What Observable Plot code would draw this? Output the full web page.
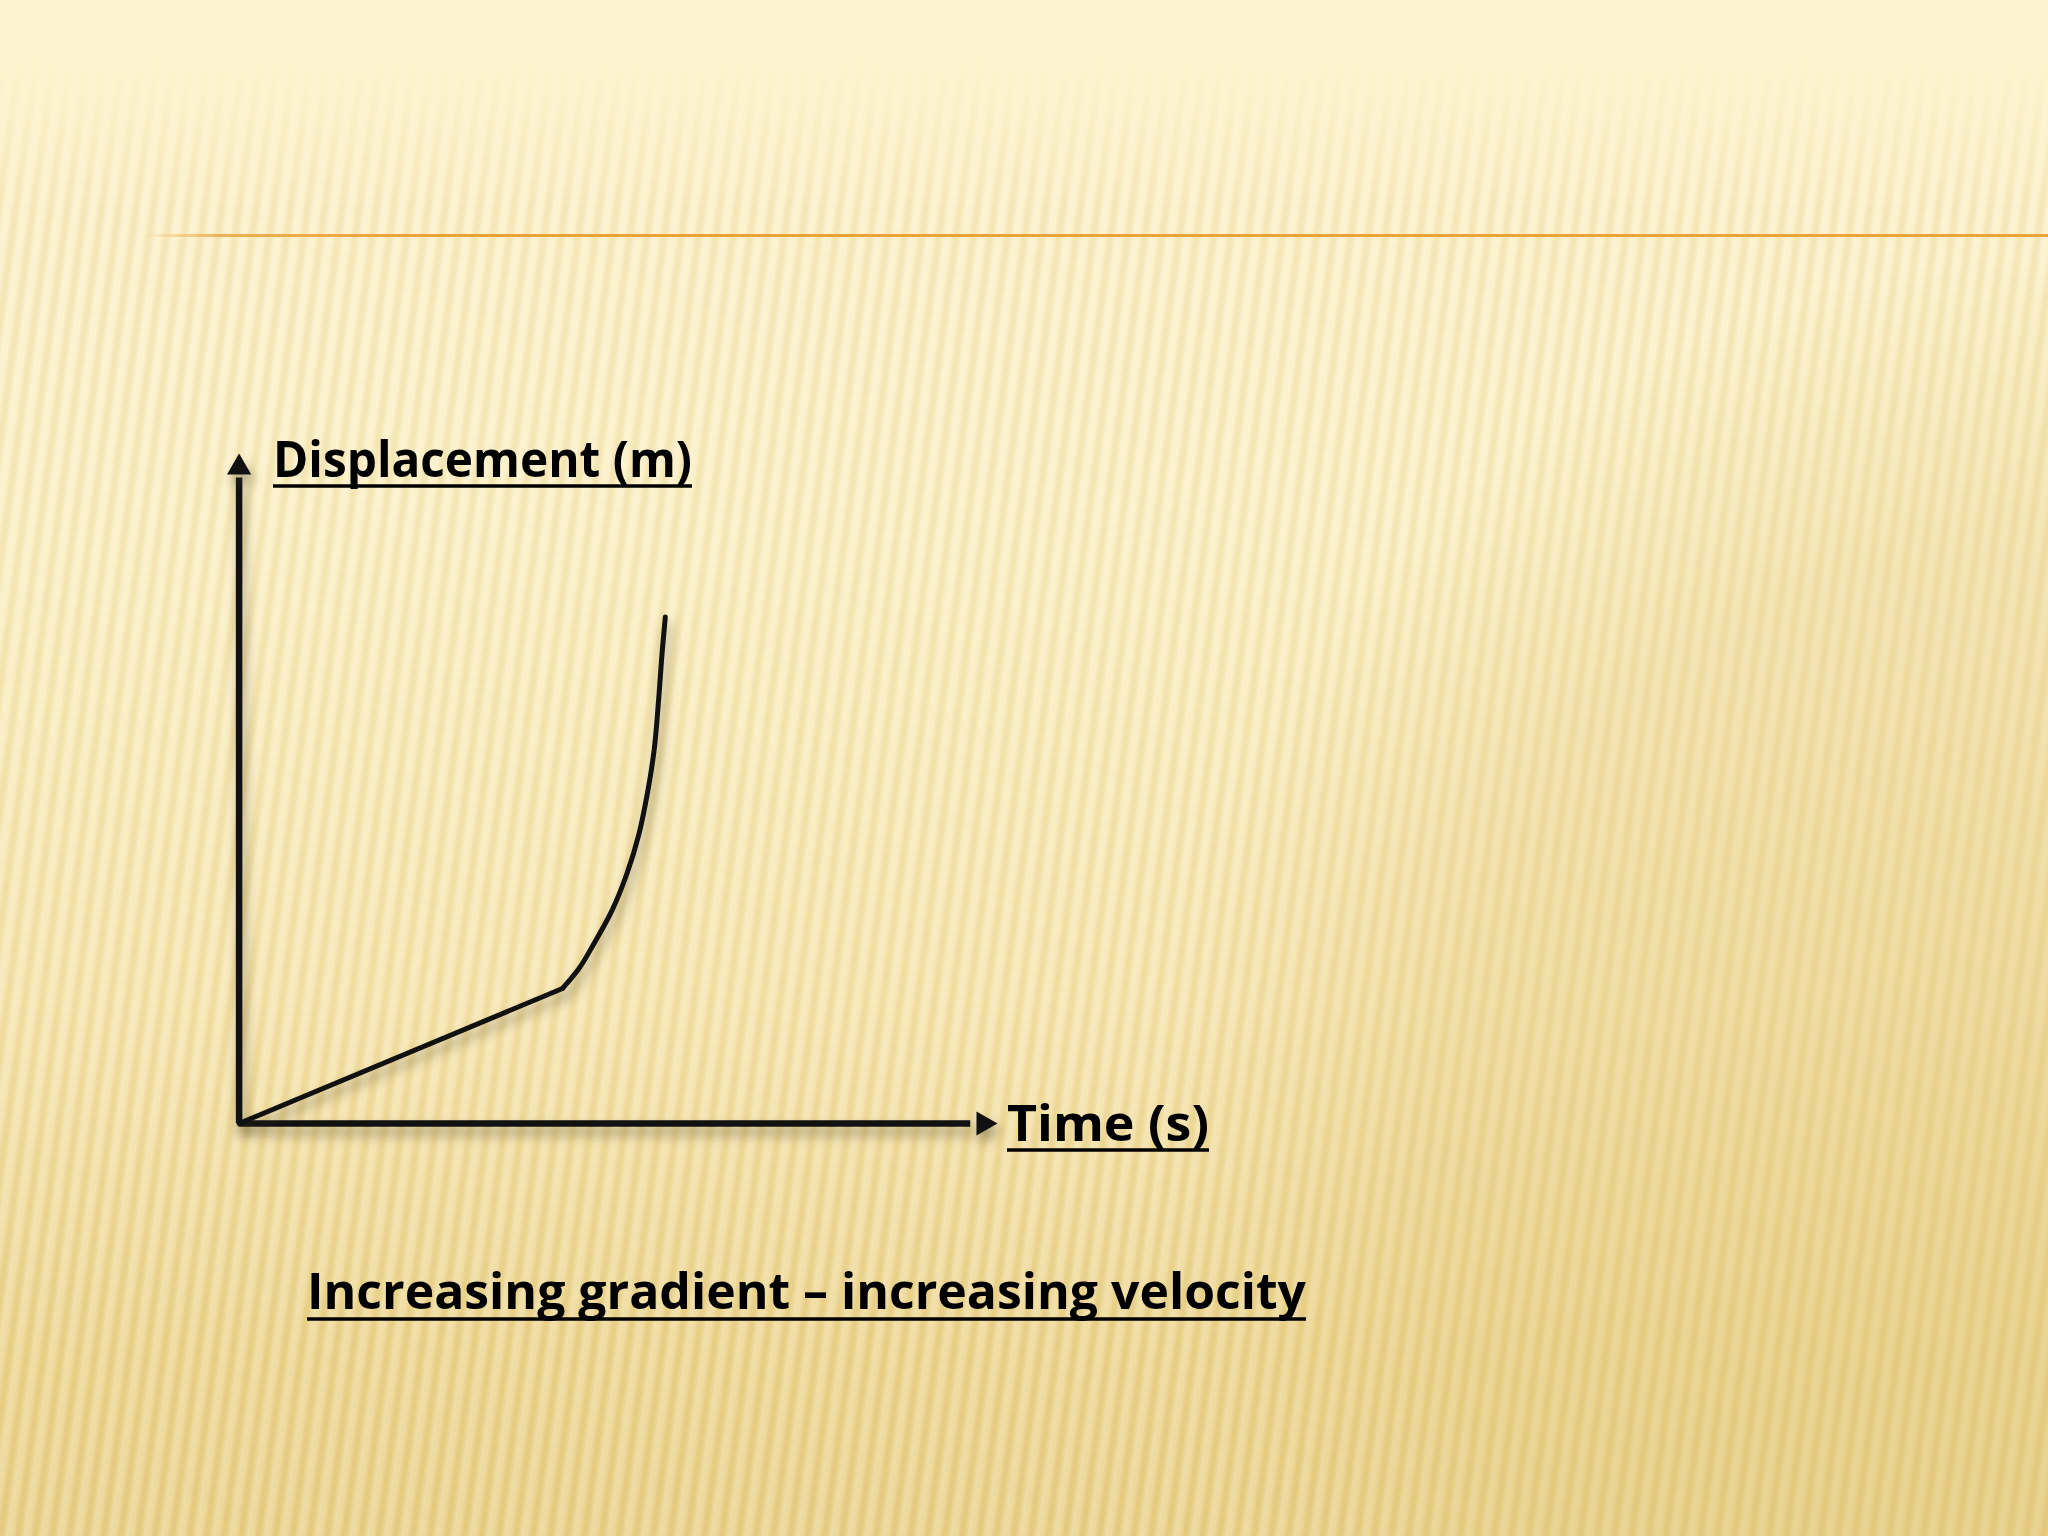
<!DOCTYPE html>
<html>
<head>
<meta charset="utf-8">
<script src="https://cdn.jsdelivr.net/npm/d3@7"></script>
<script src="https://cdn.jsdelivr.net/npm/@observablehq/plot@0.6"></script>
<style>
  html, body { margin: 0; padding: 0; }
  body { width: 2048px; height: 1536px; overflow: hidden; position: relative; }
  #bg {
    position: absolute; left: 0; top: 0; width: 2048px; height: 1536px;
    background:
      linear-gradient(180deg, rgba(253,243,206,1) 0px, rgba(253,243,206,0.95) 70px, rgba(253,243,206,0.0) 210px),
      radial-gradient(ellipse 950px 900px at 2100px 1150px, rgba(222,195,115,0.40), rgba(222,195,115,0.25) 70%, rgba(222,195,115,0) 100%),
      repeating-linear-gradient(98deg, rgba(255,255,255,0.25) 0px, rgba(255,255,255,0.18) 5px, rgba(185,155,75,0.10) 9px, rgba(185,155,75,0.10) 12px, rgba(255,255,255,0.25) 17px),
      linear-gradient(180deg, #fcf0c6 0%, #fbeec0 35%, #f6e4aa 65%, #ecd48c 88%, #e9d086 100%);
  }
  #rule {
    position: absolute; left: 144px; top: 234px; width: 1904px; height: 3px;
    background: linear-gradient(90deg, rgba(235,160,55,0) 0px, rgba(235,160,55,0.8) 80px, #eba237 300px, #eda43a 100%);
  }
  #chart { position: absolute; left: 0; top: 0; }
  #labels { position: absolute; left: 0; top: 0; }
  #labels text { font-family: "Comic Sans MS", "Open Sans", sans-serif; font-weight: 700; font-size: 50px; fill: #000; }
</style>
</head>
<body>
<div id="bg"></div>
<div id="rule"></div>
<div id="chart"></div>
<svg id="labels" width="2048" height="1536"></svg>
<script>
// Data (arbitrary units)
const time = [0, 4.31, 4.51, 4.73, 4.97, 5.17, 5.33, 5.44, 5.53, 5.59, 5.64, 5.68];
const displacement = [0, 2.04, 2.31, 2.72, 3.22, 3.78, 4.38, 4.98, 5.63, 6.39, 7.15, 7.65];
const axisMax = 10;
const xLabel = "Time (s)";
const yLabel = "Displacement (m)";
const caption = "Increasing gradient – increasing velocity";

const pts = time.map((t, i) => ({t, d: displacement[i]}));
const straight = pts.slice(0, 2);
const curved = pts.slice(1);

const plot = Plot.plot({
  width: 2048,
  height: 1536,
  margin: 0,
  x: {domain: [0, axisMax], range: [238.6, 989], axis: null},
  y: {domain: [0, axisMax], range: [1123, 461], axis: null},
  style: {background: "transparent", overflow: "visible"},
  marks: [
    // axes
    Plot.ruleY([0], {x1: 0, x2: axisMax * 0.975, stroke: "#111", strokeWidth: 6.5}),
    Plot.ruleX([0], {y1: 0, y2: axisMax * 0.975, stroke: "#111", strokeWidth: 6.5}),
    Plot.dot([{x: axisMax, y: 0}], {x: "x", y: "y", symbol: "triangle", r: 9, rotate: 90, fill: "#111", stroke: "none", dx: -6}),
    Plot.dot([{x: 0, y: axisMax}], {x: "x", y: "y", symbol: "triangle", r: 9, fill: "#111", stroke: "none", dy: 6}),
    // displacement curve
    Plot.line(straight, {x: "t", y: "d", stroke: "#111", strokeWidth: 5}),
    Plot.line(curved, {x: "t", y: "d", stroke: "#111", strokeWidth: 5, curve: "monotone-y"})
  ]
});
document.getElementById("chart").appendChild(plot);
d3.select(plot).selectAll("g[aria-label='rule'], g[aria-label='dot'], g[aria-label='line']")
  .style("filter", "drop-shadow(3px 8px 6px rgba(60,50,20,0.45))");

// labels
const labels = [
  {text: yLabel, x: 273, y: 477, w: 419, u: 486},
  {text: xLabel, x: 1007, y: 1141, w: 202, u: 1150},
  {text: caption, x: 307, y: 1309, w: 999, u: 1319}
];
const svg = d3.select("#labels");
for (const l of labels) {
  svg.append("text").attr("x", l.x).attr("y", l.y)
    .attr("textLength", l.w).attr("lengthAdjust", "spacingAndGlyphs")
    .text(l.text);
  svg.append("line").attr("x1", l.x).attr("x2", l.x + l.w)
    .attr("y1", l.u).attr("y2", l.u).attr("stroke", "#000").attr("stroke-width", 3.5);
}
</script>
</body>
</html>
